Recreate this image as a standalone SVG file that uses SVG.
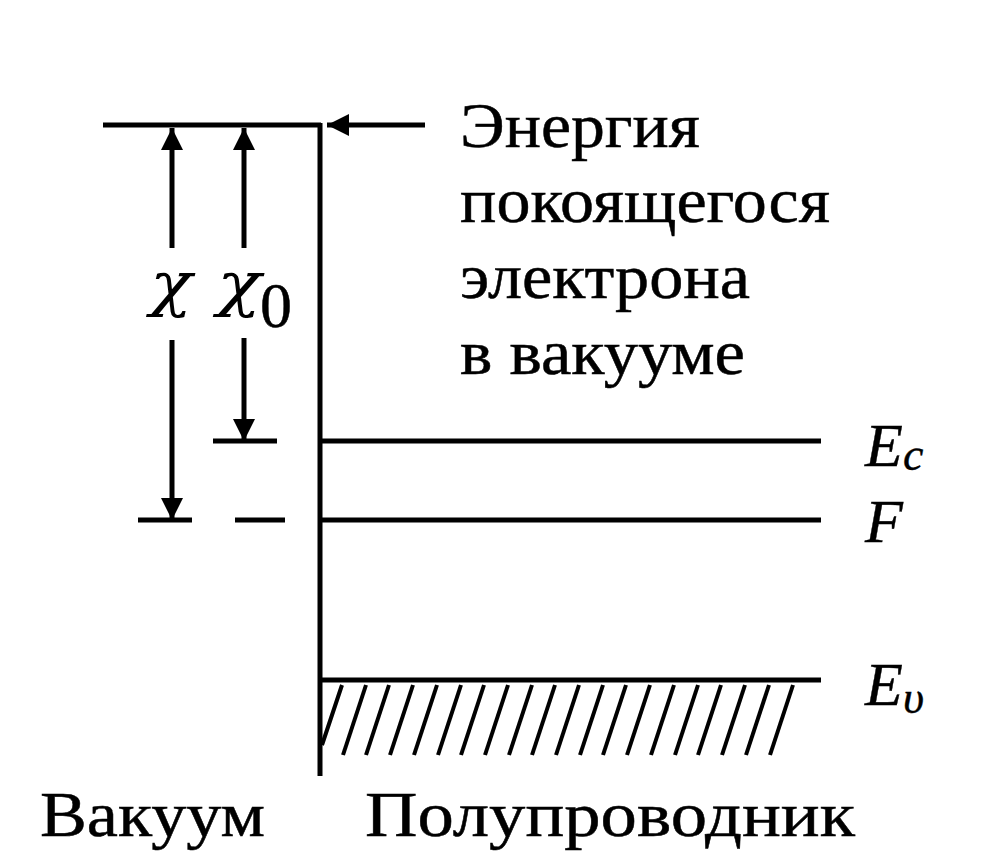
<svg xmlns="http://www.w3.org/2000/svg" width="982" height="865" viewBox="0 0 982 865">
<style>
.l{stroke:#000;stroke-width:5;fill:none}
.t{font-family:"Liberation Serif",serif;font-size:64px;fill:#000;stroke:#000;stroke-width:0.5}
.i{font-family:"Liberation Serif",serif;font-size:62px;font-style:italic;fill:#000;stroke:#000;stroke-width:0.4}
.h{stroke:#000;stroke-width:4}
</style>
<defs>
<marker id="b" viewBox="0 0 10 10" refX="10" refY="5" markerWidth="22" markerHeight="22" orient="auto" markerUnits="userSpaceOnUse"><path d="M0,0L10,5L0,10z"/></marker>
</defs>
<rect width="982" height="865" fill="#fff"/>
<g id="levels">
<line class="l" x1="103" y1="125" x2="321" y2="125"/>
<line class="l" x1="320" y1="123" x2="320" y2="776"/>
<line class="l" x1="320" y1="441" x2="821" y2="441"/>
<line class="l" x1="320" y1="520" x2="821" y2="520"/>
<line class="l" x1="320" y1="680" x2="821" y2="680"/>
<line class="l" x1="213" y1="441" x2="277" y2="441"/>
<line class="l" x1="138" y1="520" x2="192" y2="520"/>
<line class="l" x1="235" y1="520" x2="285" y2="520"/>
</g>
<g id="hatch">
<line class="h" x1="342" y1="685" x2="322" y2="745"/>
<line class="h" x1="366" y1="685" x2="343" y2="755"/>
<line class="h" x1="389" y1="685" x2="366" y2="755"/>
<line class="h" x1="413" y1="685" x2="390" y2="755"/>
<line class="h" x1="437" y1="685" x2="414" y2="755"/>
<line class="h" x1="461" y1="685" x2="438" y2="755"/>
<line class="h" x1="484" y1="685" x2="461" y2="755"/>
<line class="h" x1="508" y1="685" x2="485" y2="755"/>
<line class="h" x1="532" y1="685" x2="509" y2="755"/>
<line class="h" x1="555" y1="685" x2="532" y2="755"/>
<line class="h" x1="579" y1="685" x2="556" y2="755"/>
<line class="h" x1="603" y1="685" x2="580" y2="755"/>
<line class="h" x1="626" y1="685" x2="603" y2="755"/>
<line class="h" x1="650" y1="685" x2="627" y2="755"/>
<line class="h" x1="674" y1="685" x2="651" y2="755"/>
<line class="h" x1="698" y1="685" x2="675" y2="755"/>
<line class="h" x1="721" y1="685" x2="698" y2="755"/>
<line class="h" x1="745" y1="685" x2="722" y2="755"/>
<line class="h" x1="769" y1="685" x2="746" y2="755"/>
<line class="h" x1="793" y1="685" x2="770" y2="755"/>
</g>
<g id="connectors">
<line class="l" x1="172" y1="248" x2="172" y2="128" marker-end="url(#b)"/>
<line class="l" x1="172" y1="340" x2="172" y2="520" marker-end="url(#b)"/>
<line class="l" x1="244" y1="248" x2="244" y2="128" marker-end="url(#b)"/>
<line class="l" x1="244" y1="338" x2="244" y2="441" marker-end="url(#b)"/>
<line class="l" x1="425" y1="125" x2="327" y2="125" marker-end="url(#b)"/>
</g>
<g id="labels">
<text x="150" y="305" font-family="'DejaVu Serif',serif" font-style="italic" font-size="60" textLength="42" lengthAdjust="spacingAndGlyphs">χ</text>
<text x="217" y="305" font-family="'DejaVu Serif',serif" font-style="italic" font-size="60" textLength="44" lengthAdjust="spacingAndGlyphs">χ</text>
<text class="t" x="260" y="327" font-size="54" stroke-width="0">0</text>
<text class="t" x="460" y="147" textLength="240" lengthAdjust="spacingAndGlyphs">Энергия</text>
<text class="t" x="460" y="222" textLength="370" lengthAdjust="spacingAndGlyphs">покоящегося</text>
<text class="t" x="460" y="298" textLength="290" lengthAdjust="spacingAndGlyphs">электрона</text>
<text class="t" x="460" y="374" textLength="285" lengthAdjust="spacingAndGlyphs">в вакууме</text>
<text class="i" x="865" y="466">E<tspan font-size="46" dy="4">c</tspan></text>
<text class="i" x="865" y="542">F</text>
<text class="i" x="865" y="705">E<tspan font-size="46" dy="8">υ</tspan></text>
<text class="t" x="40" y="836" textLength="225" lengthAdjust="spacingAndGlyphs">Вакуум</text>
<text class="t" x="365" y="836" textLength="490" lengthAdjust="spacingAndGlyphs">Полупроводник</text>
</g>
</svg>
